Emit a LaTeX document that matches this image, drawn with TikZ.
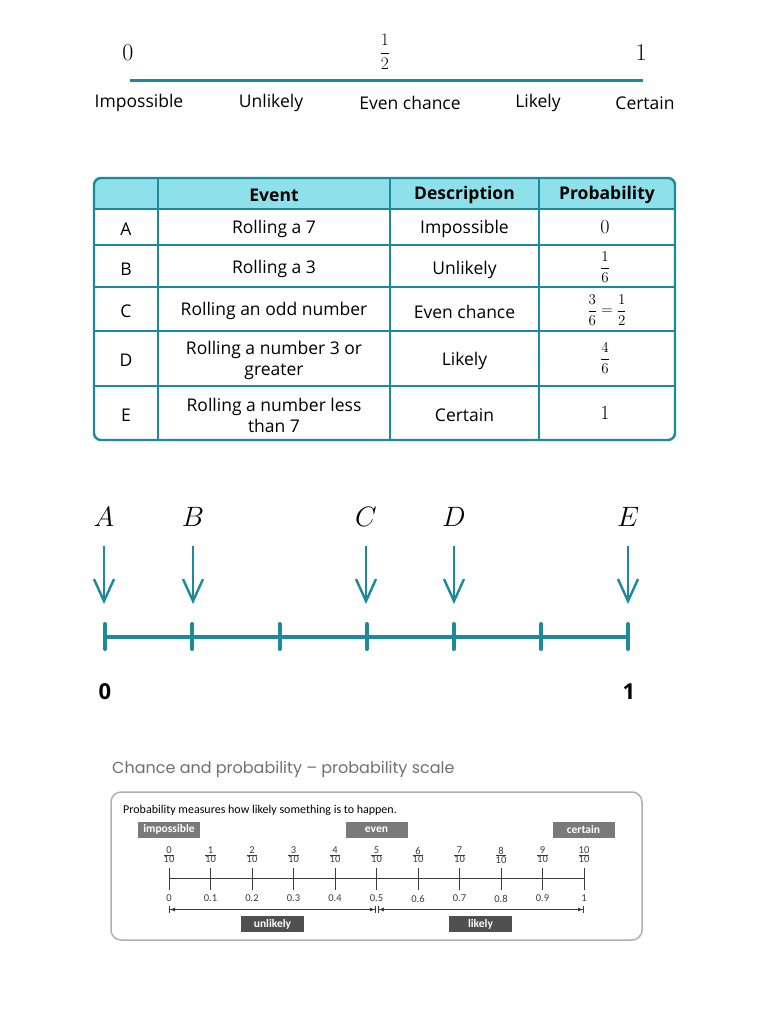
\RequirePackage{fix-cm}
\documentclass[tikz,border=0pt]{standalone}
\usepackage{fontspec}
\usetikzlibrary{arrows.meta}
\newfontfamily\osf{Open Sans}
\newfontfamily\carl{Carlito}
\newfontfamily\popf{Poppins}
\definecolor{tealc}{HTML}{1B8A9A}
\definecolor{headfill}{HTML}{8EE0EB}
\definecolor{titlegray}{HTML}{707070}
\definecolor{boxgray}{HTML}{B0B0B0}
\definecolor{lblgray}{HTML}{7A7A7A}
\definecolor{lbldark}{HTML}{505050}
\definecolor{linegray}{HTML}{3A3A3A}
\newcommand\myfrac[2]{$\frac{\hbox{#1}}{\hbox{#2}}$}
\tikzset{
  toplbl/.style={font=\osf\fontsize{17.5}{17.5}\selectfont, inner sep=0pt},
  bignum/.style={font=\fontsize{24}{24}\selectfont, inner sep=0pt},
  cell/.style={font=\osf\fontsize{17.5}{21}\selectfont, inner sep=0pt, align=center},
  headcell/.style={font=\osf\bfseries\fontsize{17.5}{17.5}\selectfont, inner sep=0pt},
  probcell/.style={font=\fontsize{20}{20}\selectfont, inner sep=0pt},
  probfrac/.style={font=\fontsize{15}{15}\selectfont, inner sep=0pt},
  tline/.style={draw=tealc, line width=2.4pt},
  evletter/.style={font=\fontsize{28}{28}\selectfont, inner sep=0pt},
  evarrow/.style={draw=tealc, line width=2.4pt, -{Straight Barb[length=22pt,width=20pt]}},
  axisline/.style={draw=tealc, line width=4pt},
  tick/.style={draw=tealc, line width=4pt, line cap=round},
  endnum/.style={font=\osf\bfseries\fontsize{22}{22}\selectfont, inner sep=0pt},
  ptitle/.style={font=\popf\fontsize{16}{16}\selectfont, text=titlegray, inner sep=0pt, anchor=west},
  ptext/.style={font=\carl\fontsize{12}{12}\selectfont, inner sep=0pt, anchor=west},
  glabel/.style={fill=lblgray, text=white, font=\carl\bfseries\fontsize{11.5}{11.5}\selectfont, minimum width=62pt, minimum height=16pt, inner sep=0pt},
  dlabel/.style={fill=lbldark, text=white, font=\carl\bfseries\fontsize{11.5}{11.5}\selectfont, minimum width=63pt, minimum height=16pt, inner sep=0pt},
  fracnode/.style={font=\carl\fontsize{10.5}{10.5}\selectfont, inner sep=0pt, text=linegray},
  decnum/.style={font=\carl\fontsize{10.5}{10.5}\selectfont, inner sep=0pt, text=linegray},
  smallline/.style={draw=linegray, line width=1pt},
  dimline/.style={draw=linegray, line width=0.7pt, {Bar[width=7pt,line width=1pt]Latex[length=5pt,width=4pt]}-{Latex[length=5pt,width=4pt]Bar[width=7pt,line width=1pt]}},
}
\begin{document}
\begin{tikzpicture}[x=1pt,y=-1pt]
\useasboundingbox (0,0) rectangle (768,1024);
\fill[white] (0,0) rectangle (768,1024);

% ---------- Section 1: simple scale ----------
\coordinate (s1l) at (130,81);
\coordinate (s1r) at (643,81);
\draw[tealc, line width=3pt] (s1l) -- (s1r);
\node[bignum] (z0) at (128,53) {$0$};
\node[font=\fontsize{17.5}{17.5}\selectfont, inner sep=0pt] (zh) at (385,52) {$\displaystyle\frac{1}{2}$};
\node[bignum] (z1) at (641,53) {$1$};
\node[toplbl] (l1) at (139,103) {Impossible};
\node[toplbl] (l2) at (271,103) {Unlikely};
\node[toplbl] (l3) at (410,103) {Even chance};
\node[toplbl] (l4) at (538,103) {Likely};
\node[toplbl] (l5) at (645,103) {Certain};

% ---------- Section 2: table ----------
\begin{scope}
  \clip[rounded corners=7pt] (94,178) rectangle (675,440);
  \fill[headfill] (94,178) rectangle (675,209);
\end{scope}
\draw[tline, rounded corners=7pt] (94,178) rectangle (675,440);
\foreach \yy in {209,245,287,331,386} \draw[tline] (94,\yy) -- (675,\yy);
\foreach \xx in {158,390,539} \draw[tline] (\xx,178) -- (\xx,440);

\node[headcell] (hE) at (274,195) {Event};
\node[headcell] (hD) at (464.5,195) {Description};
\node[headcell] (hP) at (607,195) {Probability};

\node[cell] (rA) at (126,229) {A};
\node[cell] (rB) at (126,269) {B};
\node[cell] (rC) at (126,311) {C};
\node[cell] (rD) at (126,360) {D};
\node[cell] (rE) at (126,415) {E};

\node[cell] (eA) at (274,229) {Rolling a 7};
\node[cell] (eB) at (274,269) {Rolling a 3};
\node[cell] (eC) at (274,311) {Rolling an odd number};
\node[cell] (eD) at (274,360) {Rolling a number 3 or\\greater};
\node[cell] (eE) at (274,415) {Rolling a number less\\than 7};

\node[cell] (dA) at (464.5,229) {Impossible};
\node[cell] (dB) at (464.5,270) {Unlikely};
\node[cell] (dC) at (464.5,312) {Even chance};
\node[cell] (dD) at (464.5,361) {Likely};
\node[cell] (dE) at (464.5,415) {Certain};

\node[probcell] (pA) at (605,227) {$0$};
\node[probfrac] (pB) at (605,267) {$\displaystyle\frac{1}{6}$};
\node[probfrac] (pC) at (607,310) {$\displaystyle\frac{3}{6}=\frac{1}{2}$};
\node[probfrac] (pD) at (605,358) {$\displaystyle\frac{4}{6}$};
\node[probcell] (pE) at (605,413) {$1$};

% ---------- Section 3: events on a line ----------
\foreach \i/\xx in {0/105,1/192.2,2/279.5,3/366.7,4/453.8,5/541,6/628}
  \coordinate (t\i) at (\xx,637);
\draw[axisline] (t0) -- (t6);
\foreach \i in {0,...,6}
  \draw[tick] ([yshift=-12pt]t\i) -- ([yshift=13pt]t\i);

\foreach \L/\xx in {A/104,B/193,C/366,D/454,E/628}{
  \node[evletter] (ev\L) at (\xx,517) {$\L$};
  \coordinate (as\L) at (\xx,546);
  \coordinate (ae\L) at (\xx,604);
  \draw[evarrow] (as\L) -- (ae\L);
}
\node[endnum] (b0) at (105,692) {0};
\node[endnum] (b1) at (629,692) {1};

% ---------- Section 4: probability scale (screenshot) ----------
\node[ptitle] (ttl) at (112,769) {Chance and probability – probability scale};
\draw[boxgray, line width=1.5pt, rounded corners=10pt] (111,792) rectangle (642,940);
\node[ptext] (intro) at (123,810) {Probability measures how likely something is to happen.};

\node[glabel] (gimp) at (169,829.5) {impossible};
\node[glabel] (geven) at (376.5,829.5) {even};
\node[glabel] (gcert) at (583.5,829.5) {certain};

\draw[smallline] (169,878.5) -- (584,878.5);
\foreach \k/\lab in {0/0,1/0.1,2/0.2,3/0.3,4/0.4,5/0.5,6/0.6,7/0.7,8/0.8,9/0.9,10/1}{
  \pgfmathsetmacro{\px}{169+41.5*\k}
  \coordinate (q\k) at (\px,878.5);
  \draw[smallline] (\px,868) -- (\px,890);
  \node[fracnode] (fr\k) at (\px,855) {\myfrac{\k}{10}};
  \node[decnum] (dn\k) at (\px,898.5) {\lab};
}

\coordinate (ul) at (169,909.5);
\coordinate (ur) at (375.8,909.5);
\coordinate (ll) at (377.8,909.5);
\coordinate (lr) at (584,909.5);
\draw[dimline] (ul) -- (ur);
\draw[dimline] (ll) -- (lr);
\node[dlabel] (gunl) at (272.5,924) {unlikely};
\node[dlabel] (glik) at (480.5,924) {likely};
\end{tikzpicture}
\end{document}
